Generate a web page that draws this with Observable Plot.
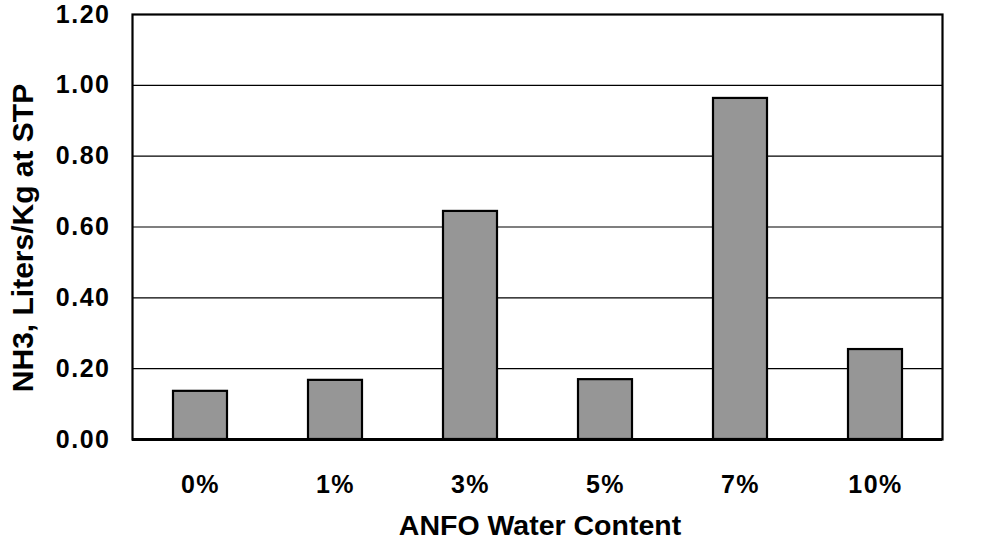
<!DOCTYPE html>
<html><head><meta charset="utf-8">
<script src="https://cdn.jsdelivr.net/npm/d3@7"></script>
<script src="https://cdn.jsdelivr.net/npm/@observablehq/plot@0.6"></script>
<style>
body{margin:0;background:#fff;}
svg{font-family:"Liberation Sans",Arial,sans-serif;}
</style>
</head><body><div id="chart"></div>
<script>
const categories = ["0%", "1%", "3%", "5%", "7%", "10%"];
const values = [0.136, 0.167, 0.644, 0.169, 0.963, 0.254];
const yTicks = [0, 0.2, 0.4, 0.6, 0.8, 1.0, 1.2];
const xTitle = "ANFO Water Content";
const yTitle = "NH3, Liters/Kg at STP";

const data = categories.map((c, i) => ({cat: c, v: values[i]}));

const chart = Plot.plot({
  width: 992, height: 546,
  marginLeft: 132, marginRight: 50, marginTop: 14, marginBottom: 107,
  style: {fontFamily: '"Liberation Sans", Arial, sans-serif', fontWeight: "bold", color: "#000", background: "#fff"},
  x: {domain: categories, paddingInner: 0.6, paddingOuter: 0.3, label: null},
  y: {domain: [0, 1.2], label: null},
  marks: [
    Plot.ruleY(yTicks.slice(1, -1), {stroke: "#000", strokeWidth: 1.2}),
    Plot.barY(data, {x: "cat", y: "v", fill: "#969696", stroke: "#000", strokeWidth: 2.2}),
    Plot.frame({stroke: "#000", strokeWidth: 2.2}),
    Plot.ruleY([0], {stroke: "#000", strokeWidth: 3}),
    Plot.axisY({ticks: yTicks, tickSize: 0, tickPadding: 22, tickFormat: d => d.toFixed(2),
      fontSize: 25, fontWeight: "bold", label: null}),
    Plot.axisX({tickSize: 0, tickPadding: 36, fontSize: 25, fontWeight: "bold", label: null}),
    Plot.text([xTitle], {frameAnchor: "bottom", dy: 86, dx: 2.5, lineAnchor: "middle", textAnchor: "middle",
      fontSize: 28.5, fontWeight: "bold", fill: "#000"}),
    Plot.text([yTitle], {frameAnchor: "left", dx: -109, dy: 11, rotate: -90, lineAnchor: "middle", textAnchor: "middle",
      fontSize: 30, fontWeight: "bold", fill: "#000"})
  ]
});
d3.select(chart).selectAll('g[aria-label$="tick label"]').attr("letter-spacing", "1.5px");
document.getElementById("chart").appendChild(chart);
</script>
</body></html>
